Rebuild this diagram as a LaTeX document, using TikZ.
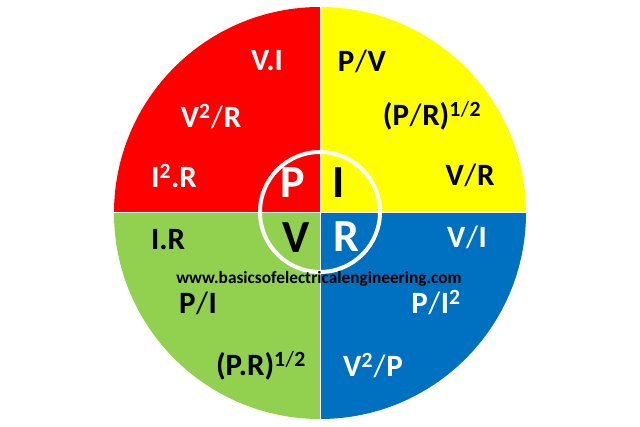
\documentclass[tikz,border=0pt]{standalone}
\usepackage{fontspec}
\setmainfont{Carlito}
\usetikzlibrary{positioning}
\tikzset{formula/.style = {font=\bfseries\fontsize{31}{31}\selectfont},
         whiteformula/.style = {formula, text=white},
         blackformula/.style = {formula, text=black},
         letter/.style = {font=\bfseries\fontsize{46}{46}\selectfont}}
\newcommand{\thinslash}{{\mdseries\kern.02em/\kern.02em}}
\definecolor{sectorred}{RGB}{255,0,0}
\definecolor{sectoryellow}{RGB}{255,255,0}
\definecolor{sectorgreen}{RGB}{146,208,80}
\definecolor{sectorblue}{RGB}{0,112,192}

\begin{document}
\begin{tikzpicture}[x=1pt, y=-1pt]
    \useasboundingbox (0, 0) rectangle (640, 427);
    \fill [white] (0, 0) rectangle (640, 427);

    \coordinate (centre) at (320, 213);
    \fill [sectorred] (centre) -- (114, 213) arc [start angle=180, end angle=270, radius=206] -- cycle;
    \fill [sectoryellow] (centre) -- (320, 7) arc [start angle=270, end angle=360, radius=206] -- cycle;
    \fill [sectorgreen] (centre) -- (114, 213) arc [start angle=180, end angle=90, radius=206] -- cycle;
    \fill [sectorblue] (centre) -- (526, 213) arc [start angle=0, end angle=90, radius=206] -- cycle;
    \draw [white, line width=1pt] (320, 7) -- (320, 419);
    \draw [white, line width=1pt] (114, 213) -- (526, 213);
    \draw [white, line width=4pt] (320, 212) circle [radius=60];

    \node [whiteformula] (vi) at (267, 61) {V.I};
    \node [whiteformula] (vsqr) at (211, 117) {V\textsuperscript{2}\thinslash R};
    \node [whiteformula] (isqr) at (174, 176) {I\textsuperscript{2}.R};
    \node [blackformula] (pv) at (362, 61) {P\thinslash V};
    \node [blackformula] (pr) at (432, 116) {(P\thinslash R)\textsuperscript{1\thinslash 2}};
    \node [blackformula] (vr) at (470, 175) {V\thinslash R};
    \node [blackformula] (ir) at (168, 240) {I.R};
    \node [blackformula] (pi) at (198, 303) {P\thinslash I};
    \node [blackformula] (ppr) at (261, 366) {(P.R)\textsuperscript{1\thinslash 2}};
    \node [whiteformula] (vi2) at (467, 237) {V\thinslash I};
    \node [whiteformula] (pisqr) at (436, 303) {P\thinslash I\textsuperscript{2}};
    \node [whiteformula] (vsqp) at (373, 366) {V\textsuperscript{2}\thinslash P};

    \node [letter, text=white] (p) at (293, 183) {P};
    \node [letter, text=black] (i) at (339, 183) {I};
    \node [letter, text=black] (v) at (296, 238) {V};
    \node [letter, text=white] (r) at (346, 237) {R};

    \node [font=\bfseries\fontsize{17.3}{17.3}\selectfont] (site) at (319, 279) {www.basicsofelectricalengineering.com};
  \end{tikzpicture}
\end{document}
